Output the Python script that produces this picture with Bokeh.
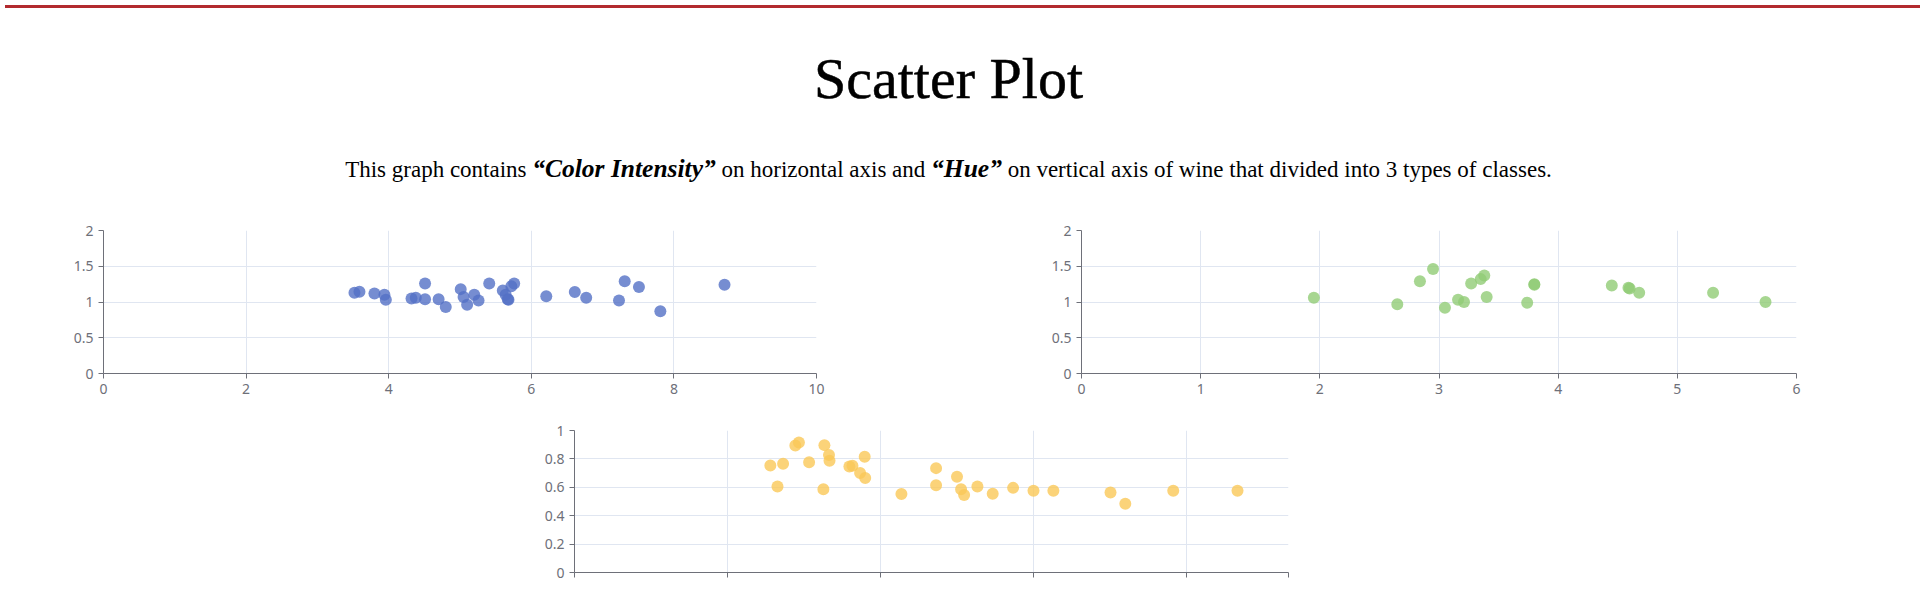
from bokeh.plotting import figure
from bokeh.models import Div, Range1d, FixedTicker, NumeralTickFormatter, CustomJSTickFormatter
from bokeh.layouts import column, row
from bokeh.embed import file_html
from bokeh.resources import INLINE

# class 1 : color intensity vs hue
class1_x = [3.52, 3.59, 3.80, 3.94, 3.96, 4.32, 4.38, 4.51, 4.51, 4.70, 4.80, 5.01, 5.05, 5.10, 5.20,
            5.26, 5.41, 5.60, 5.64, 5.67, 5.68, 5.72, 5.76, 6.21, 6.61, 6.77, 7.23, 7.31, 7.51, 7.81, 8.71]
class1_y = [1.13, 1.145, 1.12, 1.10, 1.03, 1.05, 1.06, 1.26, 1.04, 1.04, 0.93, 1.18, 1.07, 0.96, 1.10,
            1.02, 1.26, 1.16, 1.10, 1.04, 1.03, 1.22, 1.26, 1.08, 1.14, 1.06, 1.02, 1.29, 1.21, 0.87, 1.24]

# class 2
class2_x = [1.95, 2.65, 2.84, 2.95, 3.05, 3.16, 3.21, 3.27, 3.35, 3.38, 3.40, 3.74, 3.80, 3.80,
            4.45, 4.59, 4.60, 4.68, 5.30, 5.74]
class2_y = [1.06, 0.97, 1.29, 1.46, 0.92, 1.03, 1.00, 1.26, 1.32, 1.37, 1.07, 0.99, 1.25, 1.24,
            1.23, 1.20, 1.19, 1.13, 1.13, 1.00]

# class 3
class3_x = [3.84, 3.98, 4.09, 4.33, 4.40, 4.60, 4.88, 4.90, 4.99, 5.00, 5.39, 5.45, 5.60, 5.69, 5.70,
            6.41, 7.09, 7.09, 7.50, 7.58, 7.64, 7.90, 8.20, 8.60, 9.00, 9.39, 10.51, 10.80, 11.74, 13.00]
class3_y = [0.754, 0.606, 0.766, 0.894, 0.915, 0.777, 0.587, 0.897, 0.827, 0.787, 0.746, 0.751, 0.70,
            0.815, 0.665, 0.552, 0.735, 0.615, 0.674, 0.587, 0.545, 0.606, 0.554, 0.596, 0.575, 0.575,
            0.563, 0.484, 0.575, 0.575]

x_ticks1 = [0, 2, 4, 6, 8, 10]
y_ticks1 = [0, 0.5, 1, 1.5, 2]
x_ticks2 = [0, 1, 2, 3, 4, 5, 6]
x_ticks3 = [0, 3, 6, 9, 12, 14]
y_ticks3 = [0, 0.2, 0.4, 0.6, 0.8, 1]

AXIS = "#6E7079"
GRID = "#E0E6F1"


def make_plot(xs, ys, color, xr, yr, xt, yt, fw, fh, left, right, top, bottom, show_x_labels=True):
    p = figure(frame_width=fw, frame_height=fh, x_range=Range1d(*xr), y_range=Range1d(*yr),
               output_backend="svg", toolbar_location=None,
               min_border_left=left, min_border_right=right,
               min_border_top=top, min_border_bottom=bottom)
    p.outline_line_color = None
    p.background_fill_color = "white"
    p.border_fill_color = "white"
    p.scatter(xs, ys, size=12, fill_color=color, fill_alpha=0.8, line_alpha=0)
    for ax, ticks in ((p.xaxis[0], xt), (p.yaxis[0], yt)):
        ax.ticker = FixedTicker(ticks=ticks)
        ax.formatter = NumeralTickFormatter(format="0.[0]")
        ax.axis_line_color = AXIS
        ax.major_tick_line_color = AXIS
        ax.major_tick_out = 5
        ax.major_tick_in = 0
        ax.minor_tick_line_color = None
        ax.major_label_text_color = AXIS
        ax.major_label_text_font = "Noto Sans"
        ax.major_label_text_font_size = "14px"
        ax.major_label_standoff = 5
    if not show_x_labels:
        p.xaxis[0].formatter = CustomJSTickFormatter(code="return ''")
    p.xgrid.ticker = FixedTicker(ticks=xt)
    p.ygrid.ticker = FixedTicker(ticks=yt)
    p.grid.grid_line_color = GRID
    p.grid.grid_line_width = 1
    return p


p1 = make_plot(class1_x, class1_y, "#5470c6", (0, 10), (0, 2), x_ticks1, y_ticks1,
               713, 143, 103, 40, 41, 40)
p2 = make_plot(class2_x, class2_y, "#91cc75", (0, 6), (0, 2), x_ticks2, y_ticks1,
               715, 143, 225, 40, 41, 40)
p3 = make_plot(class3_x, class3_y, "#fac858", (0, 14), (0, 1), x_ticks3, y_ticks3,
               714, 142, 574, 20, 17, 12, show_x_labels=False)

title = Div(width=1887, height=100, text=(
    '<div style="width:1920px;height:3px;background:#b22a2e;"></div>'
    '<div style="width:1887px;padding-top:39px;text-align:center;'
    'font-family:\'Liberation Serif\';font-size:58px;line-height:64px;color:black;'
    '-webkit-text-stroke:0.5px black;">'
    'Scatter Plot</div>'))

subtitle = Div(width=1887, height=69, text=(
    '<div style="width:1887px;padding-top:39px;text-align:center;'
    'font-family:\'Liberation Serif\';font-size:23px;line-height:30px;color:black;">'
    'This graph contains <b><i style="font-size:25.5px">“Color Intensity”</i></b> on horizontal axis and '
    '<b><i style="font-size:25.5px">“Hue”</i></b> on vertical axis of wine that divided into 3 types of classes.'
    '</div>'))

layout = column(title, subtitle, row(p1, p2), p3)

open("out.html", "w").write(file_html(layout, INLINE))
